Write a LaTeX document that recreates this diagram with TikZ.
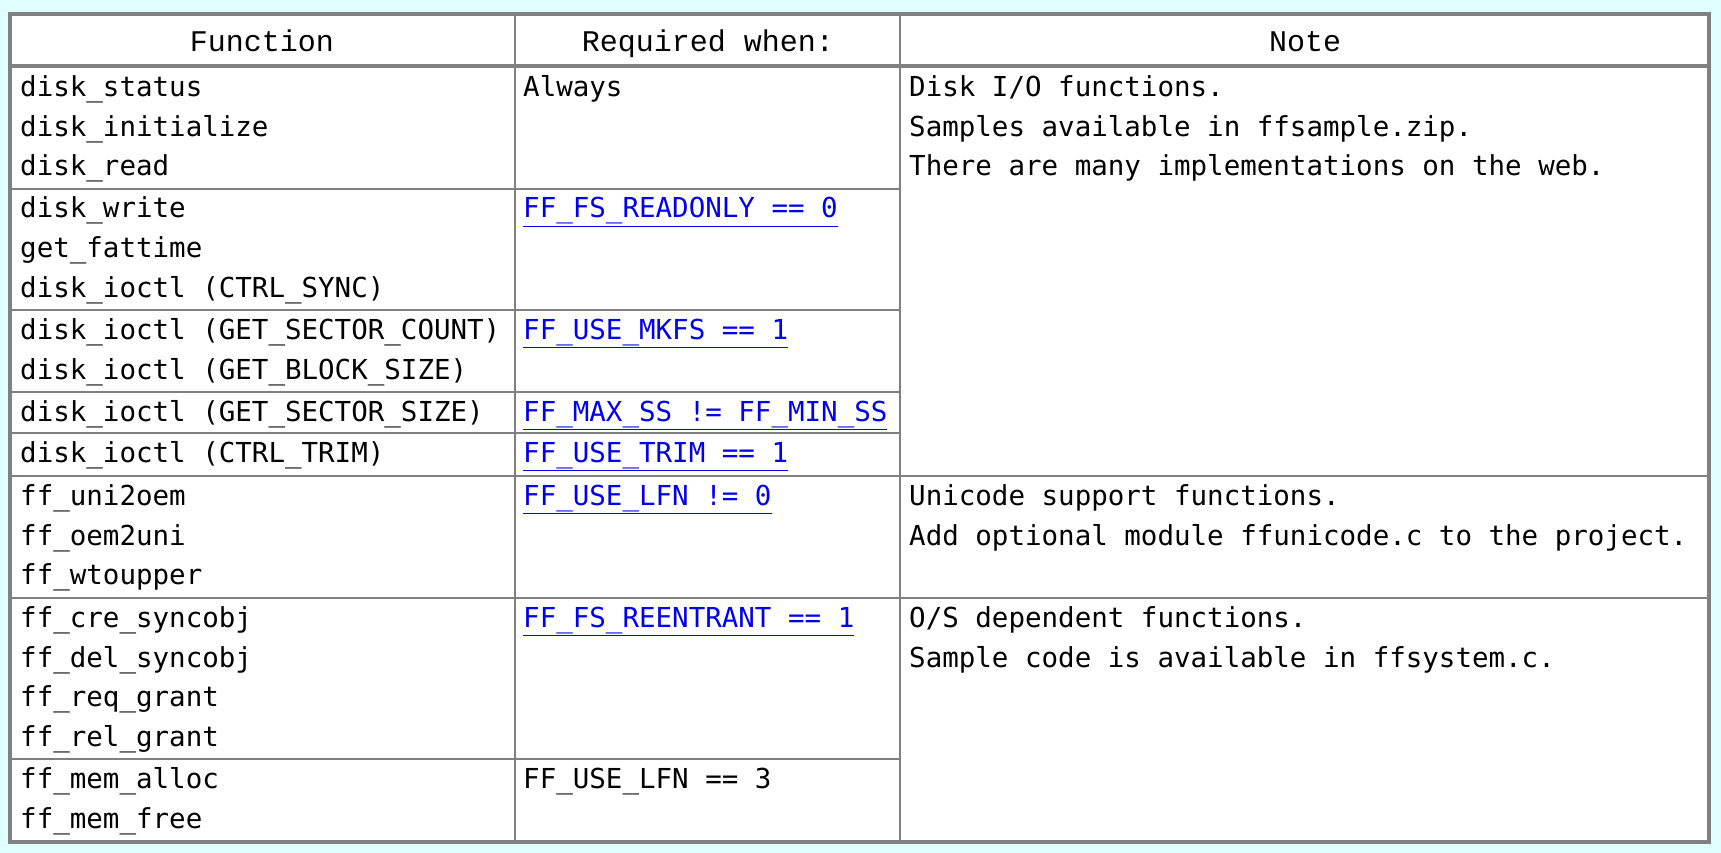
\documentclass[tikz,border=0pt]{standalone}
\usepackage{fontspec}
\setmainfont{DejaVu Sans Mono}
\newfontfamily\hdfont{Liberation Mono}
\definecolor{bgc}{HTML}{DFFFFF}
\definecolor{grid}{HTML}{808080}
\definecolor{lnkc}{HTML}{0000EE}
\newcommand\lnk[1]{\textcolor{lnkc}{\underline{#1}}}
\tikzset{
  cell/.style={anchor=base west,inner sep=0pt,font=\fontsize{27.5}{30}\selectfont},
  head/.style={anchor=base,inner sep=0pt,font=\hdfont\fontsize{30}{32}\selectfont},
  thin/.style={draw=grid,line width=2pt},
  thick/.style={draw=grid,line width=4.5pt}
}
\begin{document}
\begin{tikzpicture}[x=1pt,y=-1pt]
\fill[bgc] (0,0) rectangle (1721,853);
\fill[white] (10,14) rectangle (1709,842);
\useasboundingbox (0,0) rectangle (1721,853);
% grid
\draw[thin] (515,14) -- (515,842);
\draw[thin] (900,14) -- (900,842);
\draw[thick] (10,66) -- (1709,66);
\draw[thin] (10,189) -- (900,189);
\draw[thin] (10,310) -- (900,310);
\draw[thin] (10,392) -- (900,392);
\draw[thin] (10,433) -- (900,433);
\draw[thin] (10,476) -- (1709,476);
\draw[thin] (10,598) -- (1709,598);
\draw[thin] (10,759) -- (900,759);
\draw[thick] (10,14) rectangle (1709,842);
% header
\node[head] (h1) at (262,52) {Function};
\node[head] (h2) at (708,52) {Required when:};
\node[head] (h3) at (1305,52) {Note};
% column 1
\node[cell] (a1) at (20,97) {disk\_status};
\node[cell] (a2) at (20,137) {disk\_initialize};
\node[cell] (a3) at (20,176) {disk\_read};
\node[cell] (b1) at (20,218) {disk\_write};
\node[cell] (b2) at (20,258) {get\_fattime};
\node[cell] (b3) at (20,297) {disk\_ioctl (CTRL\_SYNC)};
\node[cell] (c1) at (20,339) {disk\_ioctl (GET\_SECTOR\_COUNT)};
\node[cell] (c2) at (20,379) {disk\_ioctl (GET\_BLOCK\_SIZE)};
\node[cell] (d1) at (20,421) {disk\_ioctl (GET\_SECTOR\_SIZE)};
\node[cell] (e1) at (20,462) {disk\_ioctl (CTRL\_TRIM)};
\node[cell] (f1) at (20,505) {ff\_uni2oem};
\node[cell] (f2) at (20,545) {ff\_oem2uni};
\node[cell] (f3) at (20,584) {ff\_wtoupper};
\node[cell] (g1) at (20,627) {ff\_cre\_syncobj};
\node[cell] (g2) at (20,667) {ff\_del\_syncobj};
\node[cell] (g3) at (20,706) {ff\_req\_grant};
\node[cell] (g4) at (20,746) {ff\_rel\_grant};
\node[cell] (k1) at (20,788) {ff\_mem\_alloc};
\node[cell] (k2) at (20,828) {ff\_mem\_free};
% column 2
\node[cell] (ra) at (523,97) {Always};
\node[cell] (rb) at (523,218) {\lnk{FF\_FS\_READONLY == 0}};
\node[cell] (rc) at (523,339) {\lnk{FF\_USE\_MKFS == 1}};
\node[cell] (rd) at (523,421) {\lnk{FF\_MAX\_SS != FF\_MIN\_SS}};
\node[cell] (re) at (523,462) {\lnk{FF\_USE\_TRIM == 1}};
\node[cell] (rf) at (523,505) {\lnk{FF\_USE\_LFN != 0}};
\node[cell] (rg) at (523,627) {\lnk{FF\_FS\_REENTRANT == 1}};
\node[cell] (rk) at (523,788) {FF\_USE\_LFN == 3};
% column 3
\node[cell] (n1) at (909,97) {Disk I/O functions.};
\node[cell] (n2) at (909,137) {Samples available in ffsample.zip.};
\node[cell] (n3) at (909,176) {There are many implementations on the web.};
\node[cell] (u1) at (909,505) {Unicode support functions.};
\node[cell] (u2) at (909,545) {Add optional module ffunicode.c to the project.};
\node[cell] (o1) at (909,627) {O/S dependent functions.};
\node[cell] (o2) at (909,667) {Sample code is available in ffsystem.c.};
\end{tikzpicture}
\end{document}
